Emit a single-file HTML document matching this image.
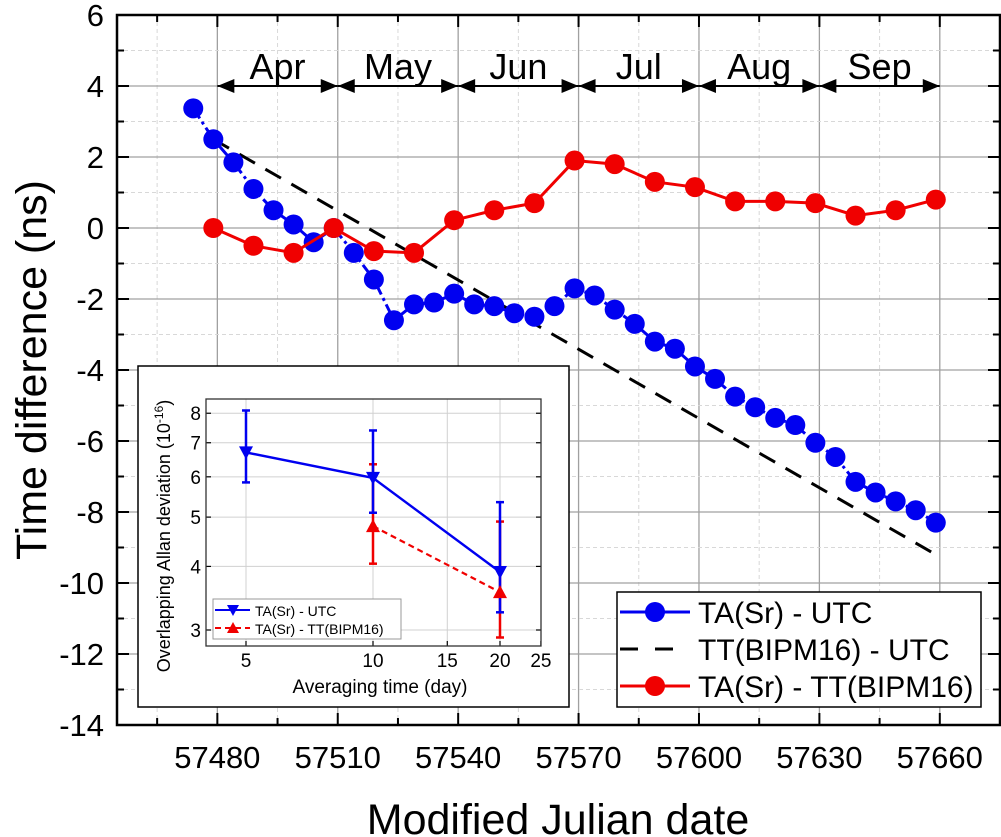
<!DOCTYPE html>
<html><head><meta charset="utf-8"><style>
html,body{margin:0;padding:0;background:#fff;}
svg{display:block;font-family:"Liberation Sans",sans-serif;}
</style></head><body>
<svg id="chart" width="1001" height="837" viewBox="0 0 1001 837">
<g id="grid"></g><g id="axes"></g><g id="months"></g><g id="series"></g><g id="inset"></g><g id="legend"></g>
</svg>
<script>
const blueMJD=[57474,57479,57484,57489,57494,57499,57504,57509,57514,57519,57524,57529,57534,57539,57544,57549,57554,57559,57564,57569,57574,57579,57584,57589,57594,57599,57604,57609,57614,57619,57624,57629,57634,57639,57644,57649,57654,57659];
const blueVal=[3.37,2.5,1.85,1.1,0.5,0.1,-0.4,0,-0.7,-1.45,-2.6,-2.15,-2.1,-1.85,-2.15,-2.2,-2.4,-2.5,-2.2,-1.7,-1.9,-2.3,-2.7,-3.2,-3.4,-3.9,-4.25,-4.75,-5.05,-5.35,-5.55,-6.05,-6.45,-7.15,-7.45,-7.7,-7.95,-8.3];
const redMJD=[57479,57489,57499,57509,57519,57529,57539,57549,57559,57569,57579,57589,57599,57609,57619,57629,57639,57649,57659];
const redVal=[0,-0.5,-0.7,0,-0.65,-0.7,0.22,0.5,0.7,1.9,1.8,1.3,1.15,0.75,0.75,0.7,0.35,0.5,0.8];
const blackMJD=[57479,57659];
const blackVal=[2.5,-9.2];
const xTicks=[57480,57510,57540,57570,57600,57630,57660];
const yTicks=[6,4,2,0,-2,-4,-6,-8,-10,-12,-14];
const months=["Apr","May","Jun","Jul","Aug","Sep"];
const monthStarts=[57480,57510,57540,57570,57600,57630,57660];
// inset
const insetTau=[5,10,20];
const insetUTC=[6.7,5.97,3.9];
const insetUTCLo=[5.85,5.1,3.25];
const insetUTCHi=[8.1,7.4,5.35];
const insetTTtau=[10,20];
const insetTT=[4.8,3.56];
const insetTTLo=[4.05,2.9];
const insetTTHi=[6.35,4.9];
const insetXTicks=[5,10,15,20,25];
const insetYTicks=[3,4,5,6,7,8];

const NS="http://www.w3.org/2000/svg";
function mk(parent,tag,attrs,text){const e=document.createElementNS(NS,tag);for(const k in attrs)e.setAttribute(k,attrs[k]);if(text!==undefined)e.textContent=text;parent.appendChild(e);return e;}
const L=117,R=1000,T=15,B=725;
const X0=57455,X1=57675,Y0=-14,Y1=6;
const sx=v=>L+(v-X0)/(X1-X0)*(R-L);
const sy=v=>B-(v-Y0)/(Y1-Y0)*(B-T);
const grid=document.getElementById('grid'),axes=document.getElementById('axes');
for(let m=57465;m<X1;m+=15){const maj=(m-57480)%30===0;const e=mk(grid,'line',{x1:sx(m),x2:sx(m),y1:T,y2:B,stroke:maj?'#a0a0a0':'#d8d8d8','stroke-width':maj?1.3:1,'stroke-dasharray':maj?'':'4,3'});
}
for(let v=-13;v<6;v++){const maj=v%2===0;const e=mk(grid,'line',{x1:L,x2:R,y1:sy(v),y2:sy(v),stroke:maj?'#a0a0a0':'#d8d8d8','stroke-width':maj?1.3:1,'stroke-dasharray':maj?'':'4,3'});
}
const fr=mk(axes,'rect',{x:L,y:T,width:R-L,height:B-T,fill:'none',stroke:'#000','stroke-width':2.5});

for(let m=57465;m<X1;m+=15){const maj=(m-57480)%30===0;const len=maj?12:7;
mk(axes,'line',{x1:sx(m),x2:sx(m),y1:B,y2:B-len,stroke:'#000','stroke-width':2});
mk(axes,'line',{x1:sx(m),x2:sx(m),y1:T,y2:T+len,stroke:'#000','stroke-width':2});}
for(let v=-13;v<6;v++){const maj=v%2===0;const len=maj?12:7;
mk(axes,'line',{x1:L,x2:L+len,y1:sy(v),y2:sy(v),stroke:'#000','stroke-width':2});
mk(axes,'line',{x1:R,x2:R-len,y1:sy(v),y2:sy(v),stroke:'#000','stroke-width':2});}
xTicks.forEach(t=>{const e=mk(axes,'text',{x:sx(t),y:768,'font-size':31,'text-anchor':'middle'},String(t));
});
yTicks.forEach(t=>{const e=mk(axes,'text',{x:104,y:sy(t)+11,'font-size':31,'text-anchor':'end'},String(t));
});
const xt=mk(axes,'text',{x:558,y:834,'font-size':43,'text-anchor':'middle'},'Modified Julian date');

const yt=mk(axes,'text',{x:0,y:0,'font-size':43,'text-anchor':'middle',transform:'translate(46,370) rotate(-90)'},'Time difference (ns)');

const mg=document.getElementById('months');const ay=sy(4);
for(let i=0;i<months.length;i++){const a=sx(monthStarts[i]),b=sx(monthStarts[i+1]);
mk(mg,'line',{x1:a,x2:b,y1:ay,y2:ay,stroke:'#000','stroke-width':2});
mk(mg,'polygon',{points:`${a},${ay} ${a+17},${ay-7} ${a+17},${ay+7}`,fill:'#000'});
mk(mg,'polygon',{points:`${b},${ay} ${b-17},${ay-7} ${b-17},${ay+7}`,fill:'#000'});
const e=mk(mg,'text',{x:(a+b)/2,y:ay-7,'font-size':36,'text-anchor':'middle'},months[i]);
}
const sg=document.getElementById('series');
const bl=mk(sg,'polyline',{points:blackMJD.map((m,i)=>sx(m)+','+sy(blackVal[i])).join(' '),fill:'none',stroke:'#000','stroke-width':3,'stroke-dasharray':'18,12'});

function series(ms,vs,col,name,dash){const p=mk(sg,'polyline',{points:ms.map((m,i)=>sx(m)+','+sy(vs[i])).join(' '),fill:'none',stroke:col,'stroke-width':3,'stroke-dasharray':dash});

ms.forEach((m,i)=>{const c=mk(sg,'circle',{cx:sx(m),cy:sy(vs[i]),r:10,fill:col});
});}
series(blueMJD,blueVal,'#0000f0','ta-sr-utc','12,4,3,4');
series(redMJD,redVal,'#f00000','ta-sr-tt','');
const lg=document.getElementById('legend');
const lb=mk(lg,'rect',{x:617,y:592,width:364,height:115,fill:'#fff',stroke:'#000','stroke-width':1.5});

const rows=[['TA(Sr) - UTC','#0000f0','line'],['TT(BIPM16) - UTC','#000','dash'],['TA(Sr) - TT(BIPM16)','#f00000','line']];
rows.forEach((r,i)=>{const y=612+i*37;const g=mk(lg,'g',{});

if(r[2]==='dash'){mk(g,'line',{x1:620,x2:690,y1:y,y2:y,stroke:'#000','stroke-width':3,'stroke-dasharray':'18,17'});}
else{mk(g,'line',{x1:620,x2:690,y1:y,y2:y,stroke:r[1],'stroke-width':3});mk(g,'circle',{cx:655,cy:y,r:10,fill:r[1]});}
mk(g,'text',{x:698,y:y+11,'font-size':30},r[0]);});
const ig=document.getElementById('inset');
const ib=mk(ig,'rect',{x:138,y:366,width:431,height:341,fill:'#fff',stroke:'#000','stroke-width':1.5});

const iL=206,iR=541,iT=399,iB=646;
const ix=v=>246+127*Math.log2(v/5);
const iy=v=>630-221*Math.log(v/3);
insetXTicks.forEach(t=>{if(t<25)mk(ig,'line',{x1:ix(t),x2:ix(t),y1:iT,y2:iB,stroke:'#d0d0d0','stroke-width':1});
mk(ig,'line',{x1:ix(t),x2:ix(t),y1:iB,y2:iB-5,stroke:'#000','stroke-width':1.2});
const e=mk(ig,'text',{x:ix(t),y:667,'font-size':19,'text-anchor':'middle'},String(t));
});
insetYTicks.forEach(t=>{mk(ig,'line',{x1:iL,x2:iR,y1:iy(t),y2:iy(t),stroke:'#d0d0d0','stroke-width':1});
mk(ig,'line',{x1:iL,x2:iL+5,y1:iy(t),y2:iy(t),stroke:'#000','stroke-width':1.2});
mk(ig,'line',{x1:iR,x2:iR-5,y1:iy(t),y2:iy(t),stroke:'#000','stroke-width':1.2});
const e=mk(ig,'text',{x:201,y:iy(t)+7,'font-size':19,'text-anchor':'end'},String(t));
});
mk(ig,'rect',{x:iL,y:iT,width:iR-iL,height:iB-iT,fill:'none',stroke:'#333','stroke-width':1.3});
const ixt=mk(ig,'text',{x:380,y:693,'font-size':19,'text-anchor':'middle'},'Averaging time (day)');

const iyt=mk(ig,'text',{x:0,y:0,'font-size':18,'text-anchor':'middle',transform:'translate(170,536) rotate(-90)'});

iyt.appendChild(document.createTextNode('Overlapping Allan deviation (10'));
mk(iyt,'tspan',{'font-size':12,dy:-7},'-16');
mk(iyt,'tspan',{dy:7},')');
function errs(ts,lo,hi,col,name){ts.forEach((t,i)=>{const g=mk(ig,'g',{});

mk(g,'line',{x1:ix(t),x2:ix(t),y1:iy(lo[i]),y2:iy(hi[i]),stroke:col,'stroke-width':2.5});
mk(g,'line',{x1:ix(t)-4,x2:ix(t)+4,y1:iy(lo[i]),y2:iy(lo[i]),stroke:col,'stroke-width':2.5});
mk(g,'line',{x1:ix(t)-4,x2:ix(t)+4,y1:iy(hi[i]),y2:iy(hi[i]),stroke:col,'stroke-width':2.5});});}
errs(insetTTtau,insetTTLo,insetTTHi,'#f00000','inset-tt');
errs(insetTau,insetUTCLo,insetUTCHi,'#0000f0','inset-utc');
const ttl=mk(ig,'polyline',{points:insetTTtau.map((t,i)=>ix(t)+','+iy(insetTT[i])).join(' '),fill:'none',stroke:'#f00000','stroke-width':2.2,'stroke-dasharray':'6,4'});

const utl=mk(ig,'polyline',{points:insetTau.map((t,i)=>ix(t)+','+iy(insetUTC[i])).join(' '),fill:'none',stroke:'#0000f0','stroke-width':2.4});

insetTau.forEach((t,i)=>{const x=ix(t),y=iy(insetUTC[i]);const p=mk(ig,'polygon',{points:`${x-7},${y-6} ${x+7},${y-6} ${x},${y+7}`,fill:'#0000f0'});
});
insetTTtau.forEach((t,i)=>{const x=ix(t),y=iy(insetTT[i]);const p=mk(ig,'polygon',{points:`${x-7},${y+6} ${x+7},${y+6} ${x},${y-7}`,fill:'#f00000'});
});
const ilb=mk(ig,'rect',{x:213,y:599,width:188,height:40,fill:'#fff',stroke:'#999','stroke-width':1});

const e1=mk(ig,'g',{});
mk(e1,'line',{x1:215,x2:250,y1:610,y2:610,stroke:'#0000f0','stroke-width':2});
mk(e1,'polygon',{points:'227,605 239,605 233,616',fill:'#0000f0'});
mk(e1,'text',{x:255,y:616,'font-size':14},'TA(Sr) - UTC');
const e2=mk(ig,'g',{});
mk(e2,'line',{x1:215,x2:250,y1:628,y2:628,stroke:'#f00000','stroke-width':2,'stroke-dasharray':'6,4'});
mk(e2,'polygon',{points:'227,633 239,633 233,622',fill:'#f00000'});
mk(e2,'text',{x:255,y:634,'font-size':14},'TA(Sr) - TT(BIPM16)');
</script>
</body></html>
